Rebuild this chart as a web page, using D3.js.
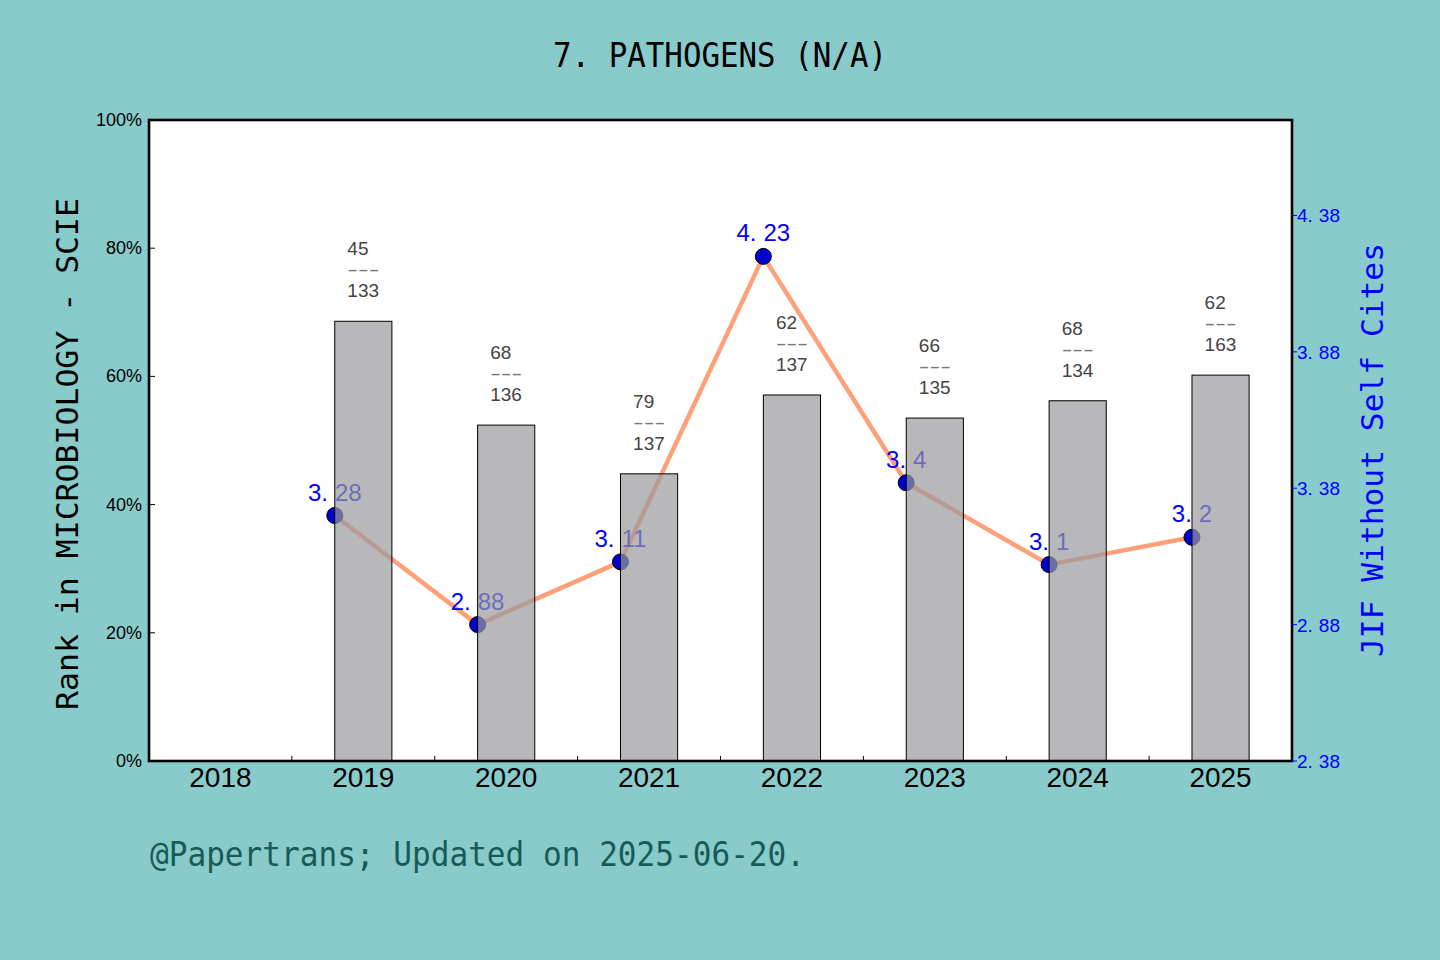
<html>
<head>
<script src="https://d3js.org/d3.v7.min.js"></script>
<style>
  body { margin:0; background:#88cbca; }
</style>
</head>
<body>
<svg id="chart" width="1440" height="960"></svg>
<script>
// data
const years = ["2018","2019","2020","2021","2022","2023","2024","2025"];
const rankPct = [null, 68.6, 52.4, 44.8, 57.1, 53.5, 56.2, 60.2];
const rankNum = [null, 45, 68, 79, 62, 66, 68, 62];
const rankTotal = [null, 133, 136, 137, 137, 135, 134, 163];
const jif = [null, 3.28, 2.88, 3.11, 4.23, 3.4, 3.1, 3.2];
const jifTicks = [2.38, 2.88, 3.38, 3.88, 4.38];
const pctTicks = [0, 20, 40, 60, 80, 100];

const svg = d3.select("#chart");
const W = 1440, H = 960;
const m = {left:149, right:1292, top:120, bottom:761};
const mono = "'DejaVu Sans Mono', monospace";
const sans = "'Liberation Sans', Arial, sans-serif";

svg.append("rect").attr("width",W).attr("height",H).attr("fill","#88cbca");
svg.append("rect").attr("x",m.left).attr("y",m.top)
   .attr("width",m.right-m.left).attr("height",m.bottom-m.top).attr("fill","#fff");

const x = d3.scaleBand().domain(years).range([m.left,m.right]).paddingInner(0).paddingOuter(0);
const y = d3.scaleLinear().domain([0,100]).range([m.bottom,m.top]);
const y2 = d3.scaleLinear().domain([d3.min(jif.filter(v=>v!=null))-0.5, d3.max(jif)+0.5]).range([m.bottom,m.top]);
const barW = x.bandwidth()*0.4;

const rows = years.map((yr,i)=>({yr, pct:rankPct[i], num:rankNum[i], tot:rankTotal[i], jif:jif[i]}))
                  .filter(d=>d.pct!=null);

// line + points (drawn under the transparent bars)
const px = d => x(d.yr) + x.bandwidth()/2 - barW/2;
const lineG = svg.append("g");
lineG.append("path").datum(rows)
   .attr("d", d3.line().x(px).y(d=>y2(d.jif)))
   .attr("fill","none").attr("stroke","#ffa07a").attr("stroke-width",4.5)
   .attr("stroke-linejoin","round");
lineG.selectAll("circle").data(rows).join("circle")
   .attr("cx",px).attr("cy",d=>y2(d.jif)).attr("r",8)
   .attr("fill","#0000cd").attr("stroke","#000").attr("stroke-width",1);
const lbl = lineG.selectAll("text").data(rows).join("text")
   .attr("x",px).attr("y",d=>y2(d.jif)-15)
   .attr("text-anchor","middle").attr("fill","#0000ff")
   .style("font-family",sans).style("font-size","24px");
lbl.each(function(d){
  const parts = String(d.jif).split(".");
  const t = d3.select(this);
  t.append("tspan").text(parts[0]+".");
  t.append("tspan").attr("dx",7).text(parts[1]);
});

// bars
svg.append("g").selectAll("rect").data(rows).join("rect")
   .attr("x",d=>x(d.yr)+x.bandwidth()/2-barW/2)
   .attr("y",d=>y(d.pct)).attr("width",barW).attr("height",d=>m.bottom-y(d.pct))
   .attr("fill","#9a9a9e").attr("fill-opacity",0.7)
   .attr("stroke","#000").attr("stroke-width",1);

// bar annotations
const ann = svg.append("g").style("font-family",sans).style("font-size","19px").attr("fill","#444");
rows.forEach(d=>{
  const lx = x(d.yr)+x.bandwidth()/2 - 16;
  const top = y(d.pct);
  ann.append("text").attr("x",lx).attr("y",top-66).text(d.num);
  ann.append("text").attr("x",lx).attr("y",top-45).attr("fill","#777")
     .attr("textLength",32).attr("lengthAdjust","spacingAndGlyphs").text("---");
  ann.append("text").attr("x",lx).attr("y",top-24).text(d.tot);
});

// frame
svg.append("rect").attr("x",m.left).attr("y",m.top)
   .attr("width",m.right-m.left).attr("height",m.bottom-m.top)
   .attr("fill","none").attr("stroke","#000").attr("stroke-width",2.6);

// left axis ticks
const gl = svg.append("g");
pctTicks.forEach(t=>{
  gl.append("line").attr("x1",m.left).attr("x2",m.left+6).attr("y1",y(t)).attr("y2",y(t)).attr("stroke","#000");
  gl.append("text").attr("x",m.left-7).attr("y",y(t)).attr("text-anchor","end")
    .attr("dominant-baseline","central").style("font-family",sans).style("font-size","18px")
    .text(t+"%");
});

// bottom axis
const gb = svg.append("g");
years.forEach((yr,i)=>{
  if(i>0) gb.append("line").attr("x1",x(yr)).attr("x2",x(yr)).attr("y1",m.bottom).attr("y2",m.bottom-5).attr("stroke","#000");
  gb.append("text").attr("x",x(yr)+x.bandwidth()/2).attr("y",787).attr("text-anchor","middle")
    .style("font-family",sans).style("font-size","28px").text(yr);
});

// right axis
const gr = svg.append("g");
jifTicks.forEach(t=>{
  gr.append("line").attr("x1",m.right).attr("x2",m.right+5).attr("y1",y2(t)).attr("y2",y2(t)).attr("stroke","#0000ff");
  const parts = t.toFixed(2).split(".");
  const tx = gr.append("text").attr("x",m.right+5).attr("y",y2(t)).attr("dominant-baseline","central")
    .attr("fill","#0000ff").style("font-family",sans).style("font-size","19px");
  tx.append("tspan").text(parts[0]+".");
  tx.append("tspan").attr("dx",6).text(parts[1]);
});

// titles
svg.append("text").attr("x",720).attr("y",67).attr("text-anchor","middle")
   .style("font-family",mono).style("font-size","33px")
   .attr("textLength",334).attr("lengthAdjust","spacingAndGlyphs")
   .text("7.  PATHOGENS (N/A)");
svg.append("text").attr("transform","translate(67,454) rotate(-90)")
   .attr("text-anchor","middle").attr("dominant-baseline","central")
   .style("font-family",mono).style("font-size","30px")
   .attr("textLength",512).attr("lengthAdjust","spacingAndGlyphs")
   .text("Rank in MICROBIOLOGY - SCIE");
svg.append("text").attr("transform","translate(1372,450) rotate(-90)")
   .attr("text-anchor","middle").attr("dominant-baseline","central").attr("fill","#0000ff")
   .style("font-family",mono).style("font-size","30px")
   .attr("textLength",414).attr("lengthAdjust","spacingAndGlyphs")
   .text("JIF Without Self Cites");
svg.append("text").attr("x",150).attr("y",866).attr("fill","#175a56")
   .style("font-family",mono).style("font-size","34px")
   .attr("textLength",655).attr("lengthAdjust","spacingAndGlyphs")
   .text("@Papertrans; Updated on 2025-06-20.");
</script>
</body>
</html>
